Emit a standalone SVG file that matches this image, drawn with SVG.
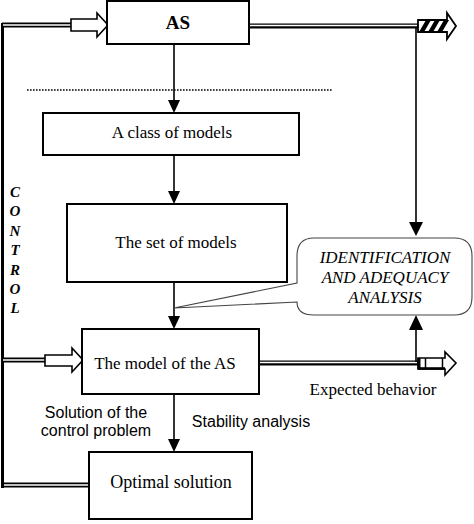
<svg xmlns="http://www.w3.org/2000/svg" width="474" height="524" viewBox="0 0 474 524">
<defs>
<style>
.box{fill:#fff;stroke:#000;stroke-width:2}
.ln{stroke:#000;stroke-width:1.6;fill:none}
.dbl{stroke:#000;stroke-width:5;fill:none}
.dbli{stroke:#fff;stroke-width:1.4;fill:none}
.hol{fill:#fff;stroke:#000;stroke-width:1.6}
.ah{fill:#000}
.t{font-family:"Liberation Serif","Times New Roman",serif;font-size:17px;fill:#000;text-anchor:middle}
.s{font-family:"Liberation Sans",Arial,sans-serif;font-size:16px;fill:#000;text-anchor:middle}
.ctl{font-family:"Liberation Serif","Times New Roman",serif;font-size:15px;font-weight:bold;font-style:italic;fill:#000;text-anchor:middle}
</style>
<clipPath id="hclip"><polygon points="418,20 447,20 447,13 456,26 447,39 447,32 418,32"/></clipPath>
</defs>

<g id="connectors">
<!-- left control line -->
<line x1="2.5" y1="23" x2="2.5" y2="488" stroke="#000" stroke-width="3"/>
<!-- top input to AS -->
<line class="dbl" x1="2" y1="25" x2="72" y2="25"/><line class="dbli" x1="3" y1="25" x2="72" y2="25"/>
<polygon class="hol" points="71,19 97,19 97,13 108,25 97,37 97,31 71,31"/>
<!-- AS output -->
<line class="dbl" x1="249" y1="26" x2="419" y2="26"/><line class="dbli" x1="249" y1="25.5" x2="417" y2="25.5"/>
<g id="hatched-arrow">
<polygon points="418,20 447,20 447,13 456,26 447,39 447,32 418,32" fill="#fff"/>
<g clip-path="url(#hclip)" fill="#000">
<polygon points="419,32 424,32 431,20 426,20"/>
<polygon points="428,32 433,32 440,20 435,20"/>
<polygon points="437,32 442,32 449,20 444,20"/>
</g>
<polygon points="418,20 447,20 447,13 456,26 447,39 447,32 418,32" fill="none" stroke="#000" stroke-width="1.8"/>
</g>
<!-- vertical to identification -->
<line class="ln" x1="416" y1="28" x2="416" y2="223"/>
<polygon class="ah" points="409,222 423,222 416,236"/>
<!-- dotted line -->
<line x1="27" y1="90" x2="332" y2="90" stroke="#000" stroke-width="1.6" stroke-dasharray="1.6 1.4"/>
<!-- vertical chain -->
<line class="ln" x1="174" y1="44" x2="174" y2="101"/>
<polygon class="ah" points="168,100 180,100 174,113"/>
<line class="ln" x1="174" y1="155" x2="174" y2="192"/>
<polygon class="ah" points="168,191 180,191 174,204"/>
<line class="ln" x1="174" y1="282" x2="174" y2="317"/>
<polygon class="ah" points="168,316 180,316 174,329"/>
<line class="ln" x1="174" y1="394" x2="174" y2="440"/>
<polygon class="ah" points="168,439 180,439 174,452"/>
<!-- model input -->
<line class="dbl" x1="2" y1="360" x2="46" y2="360"/><line class="dbli" x1="3" y1="360" x2="46" y2="360"/>
<polygon class="hol" points="45,355 72,355 72,348 83,360 72,372 72,366 45,366"/>
<!-- model output -->
<line class="dbl" x1="259" y1="363" x2="419" y2="363"/><line class="dbli" x1="259" y1="362.5" x2="417" y2="362.5"/>
<g id="striped-arrow">
<polygon points="418,358 445,358 445,352 456,363 445,375 445,369 418,369" fill="#fff" stroke="#000" stroke-width="1.6"/>
<line x1="419" y1="358" x2="419" y2="369" stroke="#000" stroke-width="3"/>
<line x1="418" y1="368.5" x2="445" y2="368.5" stroke="#000" stroke-width="2.6"/>
<line x1="425.5" y1="358" x2="425.5" y2="369" stroke="#000" stroke-width="1.5"/>
<line x1="442.5" y1="358" x2="442.5" y2="369" stroke="#000" stroke-width="1.5"/>
</g>
<!-- up to identification -->
<line class="ln" x1="416" y1="362" x2="416" y2="329"/>
<polygon class="ah" points="409,330 423,330 416,315"/>
<!-- bottom control source -->
<line class="dbl" x1="2" y1="485" x2="90" y2="485"/><line class="dbli" x1="4" y1="485" x2="89" y2="485"/>
</g>

<g id="node-as">
<rect class="box" x="107" y="1" width="142" height="43"/>
<text class="t" x="178" y="29" style="font-weight:bold;font-size:19px">AS</text>
</g>
<g id="node-class">
<rect class="box" x="43" y="113" width="256" height="42"/>
<text class="t" x="172" y="138">A class of models</text>
</g>
<g id="node-set">
<rect class="box" x="67" y="204" width="220" height="78"/>
<text class="t" x="176" y="248">The set of models</text>
</g>
<g id="node-model">
<rect class="box" x="82" y="329" width="177" height="65"/>
<text class="t" x="165" y="369">The model of the AS</text>
</g>
<g id="node-optimal">
<rect class="box" x="89" y="452" width="163" height="67"/>
<text class="t" x="171" y="488" style="font-size:18px">Optimal solution</text>
</g>
<g id="node-identification">
<path d="M 314,238 H 454 Q 472,238 472,256 V 297 Q 472,315 454,315 H 314 Q 297,315 297,302 L 174,308 L 297,283 V 256 Q 297,238 314,238 Z" fill="#fff" stroke="#444" stroke-width="1.1"/>
<text class="t" x="385" y="263" style="font-style:italic">IDENTIFICATION</text>
<text class="t" x="385" y="283" style="font-style:italic">AND ADEQUACY</text>
<text class="t" x="385" y="303" style="font-style:italic">ANALYSIS</text>
</g>
<g id="labels">
<text class="ctl" x="15" y="197">C</text>
<text class="ctl" x="15" y="216">O</text>
<text class="ctl" x="15" y="236">N</text>
<text class="ctl" x="15" y="255">T</text>
<text class="ctl" x="15" y="275">R</text>
<text class="ctl" x="15" y="294">O</text>
<text class="ctl" x="15" y="313">L</text>
<text class="t" x="373" y="395">Expected behavior</text>
<text class="s" x="96" y="418">Solution of the</text>
<text class="s" x="96" y="436">control problem</text>
<text class="s" x="251" y="427">Stability analysis</text>
</g>
</svg>
